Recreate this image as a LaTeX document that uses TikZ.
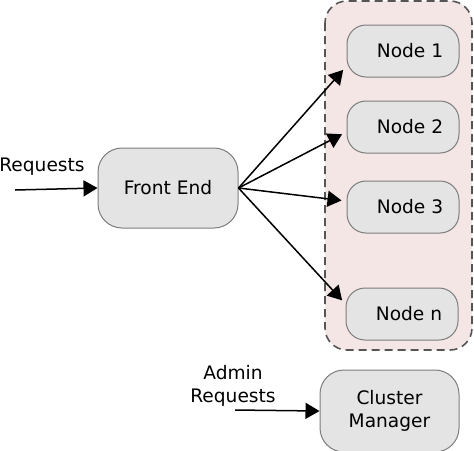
\documentclass[tikz,border=0pt]{standalone}
\usepackage{fontspec}
\setmainfont{DejaVu Sans}
\usetikzlibrary{positioning, calc, arrows.meta}
\definecolor{boxgray}{RGB}{228,228,228}
\definecolor{boxline}{RGB}{125,125,125}
\definecolor{poolpink}{RGB}{245,230,230}
\definecolor{poolline}{RGB}{85,85,85}

\begin{document}
\begin{tikzpicture}[x=0.5pt, y=-0.5pt,
        txt/.style={align=center, inner sep=0pt, font=\fontsize{9.3}{11.5}\selectfont},
        box/.style={txt, draw=boxline, fill=boxgray, line width=0.5pt, rounded corners=12pt},
        nodebox/.style={box, minimum width=56pt, minimum height=26pt, rounded corners=9.5pt},
        arr/.style={-{Triangle[length=7pt, width=8pt]}, line width=0.75pt}]
                \useasboundingbox (0,0) rectangle (474,450);
                \draw[poolline, fill=poolpink, dash pattern=on 4pt off 2.5pt, line width=0.8pt, rounded corners=11pt] (325,1) rectangle (472,350);

                \node[box, minimum width=70pt, minimum height=40pt] (fe) at (168,188) {Front End};
                \node[nodebox] (n1) at (403,51)  {\hspace*{7pt}Node 1};
                \node[nodebox] (n2) at (403,127) {\hspace*{7pt}Node 2};
                \node[nodebox] (n3) at (403,207) {\hspace*{7pt}Node 3};
                \node[nodebox] (nn) at (402,314) {\hspace*{7pt}Node n};
                \node[box, minimum width=69.5pt, minimum height=41pt] (cm) at (389.5,411) {Cluster\\Manager};

                \node[txt] (req) at (42,167) {Requests};
                \node[txt] (adm) at (233,386) {Admin\\Requests};
                \coordinate (reqin) at (15,190);
                \coordinate (admin) at (235,410);

                \draw[arr] (reqin) -- (fe.west);
                \draw[arr, shorten >=2.5pt] (fe.east) -- (n1.195);
                \draw[arr, shorten >=2.5pt] (fe.east) -- (n2.185);
                \draw[arr, shorten >=2.5pt] (fe.east) -- (n3.174);
                \draw[arr, shorten >=2.5pt] (fe.east) -- (nn.170);
                \draw[arr] (admin) -- (cm.west);
            \end{tikzpicture}
\end{document}
